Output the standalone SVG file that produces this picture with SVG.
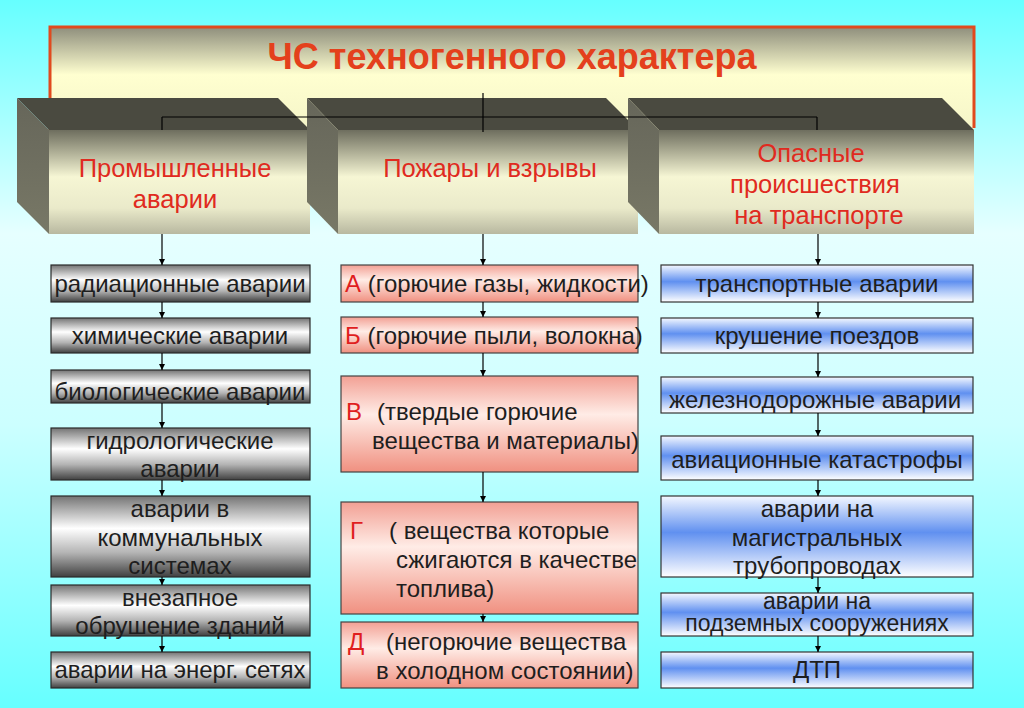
<svg xmlns="http://www.w3.org/2000/svg" width="1024" height="708" viewBox="0 0 1024 708">
<defs>
<linearGradient id="bg" x1="0" y1="0" x2="0" y2="1">
<stop offset="0" stop-color="#66FFFF"/>
<stop offset="0.33" stop-color="#E6FFFF"/>
<stop offset="0.6" stop-color="#CCFFFF"/>
<stop offset="1" stop-color="#66FFFF"/>
</linearGradient>
<linearGradient id="titleG" x1="0" y1="0" x2="0" y2="1">
<stop offset="0" stop-color="#8E8E7C"/>
<stop offset="0.45" stop-color="#FFFFD0"/>
<stop offset="1" stop-color="#F4F4C8"/>
</linearGradient>
<linearGradient id="frontG" x1="0" y1="0" x2="0" y2="1">
<stop offset="0" stop-color="#6E6E5E"/>
<stop offset="0.45" stop-color="#F6F6D4"/>
<stop offset="0.75" stop-color="#EAEACA"/>
<stop offset="1" stop-color="#B8B8A0"/>
</linearGradient>
<linearGradient id="sideG" x1="0" y1="0" x2="0" y2="1">
<stop offset="0" stop-color="#66665A"/>
<stop offset="1" stop-color="#787866"/>
</linearGradient>
<linearGradient id="grayG" x1="0" y1="0" x2="0" y2="1">
<stop offset="0" stop-color="#747474"/>
<stop offset="0.4" stop-color="#FFFFFF"/>
<stop offset="0.7" stop-color="#B4B4B4"/>
<stop offset="1" stop-color="#404040"/>
</linearGradient>
<linearGradient id="pinkG" x1="0" y1="0" x2="0" y2="1">
<stop offset="0" stop-color="#F2A094"/>
<stop offset="0.4" stop-color="#FFECE6"/>
<stop offset="1" stop-color="#F09080"/>
</linearGradient>
<linearGradient id="blueG" x1="0" y1="0" x2="0" y2="1">
<stop offset="0" stop-color="#F4F8FF"/>
<stop offset="0.45" stop-color="#6090F0"/>
<stop offset="1" stop-color="#FFFFFF"/>
</linearGradient>
<marker id="arr" markerWidth="8" markerHeight="8" refX="6" refY="3.5" orient="auto" markerUnits="userSpaceOnUse">
<path d="M0,0.5 L6,3.5 L0,6.5 Z" fill="#000"/>
</marker>
<style>
.t{font-family:"Liberation Sans",Arial,sans-serif;}
.title{font-size:36px;font-weight:bold;fill:#E4401C;text-anchor:middle;}
.hdr{font-size:25.5px;fill:#E02A20;text-anchor:middle;}
.it{font-size:24px;fill:#1E1E1E;text-anchor:middle;}
.sm{font-size:23px;}
.itl{font-size:24px;fill:#1E1E1E;}
.red{fill:#E01E1E;}
.gray{fill:url(#grayG);stroke:#2A2A2A;stroke-width:1.2;}
.pink{fill:url(#pinkG);stroke:#444;stroke-width:1.2;}
.blue{fill:url(#blueG);stroke:#333;stroke-width:1.2;}
.top{fill:#4A4A40;}
.side{fill:url(#sideG);}
.front{fill:url(#frontG);}
.con{stroke:#000;stroke-width:1.2;fill:none;}
</style>
</defs>
<rect x="0" y="0" width="1024" height="708" fill="url(#bg)"/>

<g id="title">
<rect x="50" y="27" width="924" height="106" fill="url(#titleG)"/>
<path d="M50,133 V27 H974 V128" fill="none" stroke="#E04A1E" stroke-width="3"/>
<text class="t title" x="512" y="69">ЧС техногенного характера</text>
</g>

<g id="hdr-industrial">
<polygon class="top" points="17,98 278,98 310,130 49,130"/>
<polygon class="side" points="17,98 49,130 49,234 17,202"/>
<rect class="front" x="49" y="130" width="261" height="104"/>
<text class="t hdr" x="175" y="177">Промышленные</text>
<text class="t hdr" x="175" y="208">аварии</text>
</g>
<g id="hdr-fires">
<polygon class="top" points="307,98 606,98 638,130 338,130"/>
<polygon class="side" points="307,98 338,130 338,234 307,202"/>
<rect class="front" x="338" y="130" width="300" height="104"/>
<text class="t hdr" x="490" y="177">Пожары и взрывы</text>
</g>
<g id="hdr-transport">
<polygon class="top" points="628,98 942,98 974,130 659,130"/>
<polygon class="side" points="628,98 659,130 659,234 628,202"/>
<rect class="front" x="659" y="130" width="315" height="104"/>
<text class="t hdr" x="811" y="162">Опасные</text>
<text class="t hdr" x="815" y="193">происшествия</text>
<text class="t hdr" x="819" y="224">на транспорте</text>
</g>

<g id="left-1"><rect class="gray" x="51" y="265" width="259" height="37"/><text class="t it" x="180" y="292">радиационные аварии</text></g>
<g id="left-2"><rect class="gray" x="51" y="318" width="259" height="35"/><text class="t it" x="180" y="344">химические аварии</text></g>
<g id="left-3"><rect class="gray" x="51" y="370" width="259" height="33"/><text class="t it" x="180" y="400">биологические аварии</text></g>
<g id="left-4"><rect class="gray" x="51" y="428" width="259" height="52"/><text class="t it" x="180" y="449">гидрологические</text><text class="t it" x="180" y="477">аварии</text></g>
<g id="left-5"><rect class="gray" x="51" y="496" width="259" height="81"/><text class="t it" x="180" y="517">аварии в</text><text class="t it" x="180" y="546">коммунальных</text><text class="t it" x="180" y="574">системах</text></g>
<g id="left-6"><rect class="gray" x="51" y="585" width="259" height="51"/><text class="t it" x="180" y="606">внезапное</text><text class="t it" x="180" y="634">обрушение зданий</text></g>
<g id="left-7"><rect class="gray" x="51" y="652" width="259" height="36"/><text class="t it" x="180" y="678">аварии на энерг. сетях</text></g>

<g id="mid-A"><rect class="pink" x="341" y="265" width="297" height="37"/><text class="t itl" x="345" y="292"><tspan class="red">А</tspan> (горючие газы, жидкости)</text></g>
<g id="mid-B"><rect class="pink" x="341" y="317" width="297" height="36"/><text class="t itl" x="345" y="344"><tspan class="red">Б</tspan> (горючие пыли, волокна)</text></g>
<g id="mid-V"><rect class="pink" x="341" y="376" width="297" height="96"/><text class="t itl" x="346" y="420"><tspan class="red">В</tspan></text><text class="t itl" x="377" y="420">(твердые горючие</text><text class="t itl" x="372" y="449">вещества и материалы)</text></g>
<g id="mid-G"><rect class="pink" x="341" y="502" width="297" height="112"/><text class="t itl" x="350" y="539"><tspan class="red">Г</tspan></text><text class="t itl" x="389" y="539">( вещества которые</text><text class="t itl" x="396" y="568">сжигаются в качестве</text><text class="t itl" x="396" y="597">топлива)</text></g>
<g id="mid-D"><rect class="pink" x="341" y="622" width="297" height="66"/><text class="t itl" x="348" y="650"><tspan class="red">Д</tspan></text><text class="t itl" x="386" y="650">(негорючие вещества</text><text class="t itl" x="376" y="679">в холодном состоянии)</text></g>

<g id="right-1"><rect class="blue" x="661" y="265" width="312" height="37"/><text class="t it" x="817" y="292">транспортные аварии</text></g>
<g id="right-2"><rect class="blue" x="661" y="318" width="312" height="35"/><text class="t it" x="817" y="344">крушение поездов</text></g>
<g id="right-3"><rect class="blue" x="661" y="377" width="312" height="36"/><text class="t it" x="815" y="408">железнодорожные аварии</text></g>
<g id="right-4"><rect class="blue" x="661" y="436" width="312" height="44"/><text class="t it" x="817" y="468">авиационные катастрофы</text></g>
<g id="right-5"><rect class="blue" x="661" y="496" width="312" height="81"/><text class="t it" x="817" y="517">аварии на</text><text class="t it" x="817" y="546">магистральных</text><text class="t it" x="817" y="574">трубопроводах</text></g>
<g id="right-6"><rect class="blue" x="661" y="593" width="312" height="43"/><text class="t it sm" x="817" y="609">аварии на</text><text class="t it sm" x="817" y="631">подземных сооружениях</text></g>
<g id="right-7"><rect class="blue" x="661" y="652" width="312" height="36"/><text class="t it" x="817" y="678">ДТП</text></g>

<g id="connectors" class="con">
<path d="M483,93 V132"/>
<path d="M162,117 H817"/>
<path d="M162,117 V130"/>
<path d="M817,117 V130"/>
<path d="M162,234 V265" marker-end="url(#arr)"/>
<path d="M162,302 V318" marker-end="url(#arr)"/>
<path d="M162,353 V370" marker-end="url(#arr)"/>
<path d="M162,403 V428" marker-end="url(#arr)"/>
<path d="M162,480 V496" marker-end="url(#arr)"/>
<path d="M162,577 V585" marker-end="url(#arr)"/>
<path d="M162,636 V652" marker-end="url(#arr)"/>
<path d="M483,234 V265" marker-end="url(#arr)"/>
<path d="M483,302 V317" marker-end="url(#arr)"/>
<path d="M483,353 V376" marker-end="url(#arr)"/>
<path d="M483,472 V502" marker-end="url(#arr)"/>
<path d="M483,614 V622" marker-end="url(#arr)"/>
<path d="M818,234 V265" marker-end="url(#arr)"/>
<path d="M818,302 V318" marker-end="url(#arr)"/>
<path d="M818,353 V377" marker-end="url(#arr)"/>
<path d="M818,413 V436" marker-end="url(#arr)"/>
<path d="M818,480 V496" marker-end="url(#arr)"/>
<path d="M818,577 V593" marker-end="url(#arr)"/>
<path d="M818,636 V652" marker-end="url(#arr)"/>
</g>
</svg>
